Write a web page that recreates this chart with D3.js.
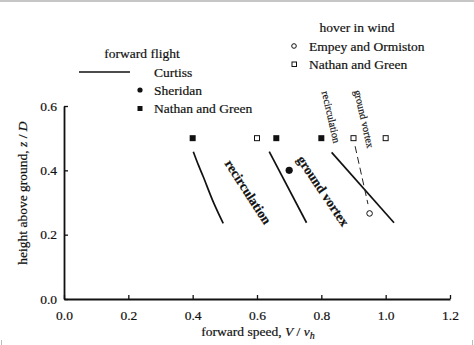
<!DOCTYPE html>
<html>
<head>
<meta charset="utf-8">
<script src="https://cdn.jsdelivr.net/npm/d3@7"></script>
<style>
  html, body { margin: 0; padding: 0; background: #fff; }
  svg { display: block; font-family: "Liberation Serif", "DejaVu Serif", serif; }
  svg text { stroke: #111; stroke-width: 0.2; }
</style>
</head>
<body>
<svg id="chart" width="474" height="345"></svg>
<script>
// Axis ticks
const xTicks = [0, 0.2, 0.4, 0.6, 0.8, 1.0, 1.2];
const yTicks = [0, 0.2, 0.4, 0.6];

// Curtiss boundaries in forward flight (V/vh, z/D)
const curtissRecirc = [[0.402, 0.458], [0.418, 0.416], [0.433, 0.380], [0.464, 0.302], [0.495, 0.235]];
const curtissGround = [[0.638, 0.458], [0.754, 0.237]];
const curtissUpper = [[0.832, 0.456], [1.026, 0.237]];

// Point measurements
const sheridanFwd = [[0.70, 0.40]];
const nathanFwd = [[0.40, 0.50], [0.66, 0.50], [0.80, 0.50]];
const nathanHover = [[0.60, 0.50], [0.90, 0.50], [1.00, 0.50]];
const empeyHover = [[0.95, 0.266]];
const hoverLink = [[0.905, 0.475], [0.945, 0.295]];

const svg = d3.select("#chart");
const x = d3.scaleLinear().domain([0, 1.2]).range([64, 450]);
const y = d3.scaleLinear().domain([0, 0.6]).range([299, 106]);

// thin frame band along the top edge and corner marks at the bottom
svg.append("rect").attr("x", 0).attr("y", 0).attr("width", 474).attr("height", 2).attr("fill", "#c6c6c6");
svg.append("line").attr("x1", 1.5).attr("x2", 1.5).attr("y1", 340).attr("y2", 345).attr("stroke", "#bbb");
svg.append("line").attr("x1", 472.5).attr("x2", 472.5).attr("y1", 340).attr("y2", 345).attr("stroke", "#bbb");

// axes with inward ticks
const xAxis = svg.append("g").attr("transform", "translate(0,299)")
  .call(d3.axisBottom(x).tickValues(xTicks).tickSizeInner(-4).tickSizeOuter(0).tickPadding(11).tickFormat(d3.format(".1f")));
const yAxis = svg.append("g").attr("transform", "translate(64,0)")
  .call(d3.axisLeft(y).tickValues(yTicks).tickSizeInner(-4).tickSizeOuter(0).tickPadding(7).tickFormat(d3.format(".1f")));
[xAxis, yAxis].forEach(a => {
  a.select(".domain").attr("stroke", "#111").attr("stroke-width", 1.8);
  a.selectAll(".tick line").attr("stroke", "#111").attr("stroke-width", 1.3);
  a.selectAll(".tick text").attr("font-size", 13.5).attr("fill", "#111")
    .attr("font-family", "Liberation Serif, serif");
});

const line = d3.line().x(d => x(d[0])).y(d => y(d[1]));
const curve = d3.line().x(d => x(d[0])).y(d => y(d[1])).curve(d3.curveCatmullRom);

svg.append("path").attr("d", curve(curtissRecirc)).attr("fill", "none").attr("stroke", "#111").attr("stroke-width", 1.7);
svg.append("path").attr("d", line(curtissGround)).attr("fill", "none").attr("stroke", "#111").attr("stroke-width", 1.7);
svg.append("path").attr("d", line(curtissUpper)).attr("fill", "none").attr("stroke", "#111").attr("stroke-width", 1.7);
svg.append("path").attr("d", line(hoverLink)).attr("fill", "none").attr("stroke", "#222")
  .attr("stroke-width", 1).attr("stroke-dasharray", "7,4");

const sq = 6;
svg.selectAll(".nf").data(nathanFwd).join("rect")
  .attr("x", d => x(d[0]) - sq / 2).attr("y", d => y(d[1]) - sq / 2)
  .attr("width", sq).attr("height", sq).attr("fill", "#111");
svg.selectAll(".nh").data(nathanHover).join("rect")
  .attr("x", d => x(d[0]) - sq / 2 + 0.5).attr("y", d => y(d[1]) - sq / 2 + 0.5)
  .attr("width", sq - 1).attr("height", sq - 1).attr("fill", "#fff").attr("stroke", "#111").attr("stroke-width", 1);
svg.selectAll(".sh").data(sheridanFwd).join("circle")
  .attr("cx", d => x(d[0])).attr("cy", d => y(d[1])).attr("r", 3.6).attr("fill", "#111");
svg.selectAll(".em").data(empeyHover).join("circle")
  .attr("cx", d => x(d[0])).attr("cy", d => y(d[1])).attr("r", 2.8)
  .attr("fill", "#fff").attr("stroke", "#111").attr("stroke-width", 1);

// region labels
function rotLabel(cx, cy, angle, text, size, weight) {
  svg.append("text").attr("transform", `translate(${cx},${cy}) rotate(${angle})`)
    .attr("text-anchor", "middle").attr("dominant-baseline", "central")
    .attr("font-size", size).attr("font-weight", weight).attr("fill", "#111").text(text);
}
rotLabel(248, 192, 57, "recirculation", 13.5, "bold");
rotLabel(323, 191, 56, "ground vortex", 13.5, "bold");
rotLabel(331, 117, 77, "recirculation", 10.5, "normal");
rotLabel(364, 119, 77, "ground vortex", 10.5, "normal");

// axis titles
const yt = svg.append("text").attr("transform", "translate(22,193) rotate(-90)")
  .attr("text-anchor", "middle").attr("dominant-baseline", "central").attr("font-size", 13.5).attr("fill", "#111");
yt.append("tspan").text("height above ground, ");
yt.append("tspan").attr("font-style", "italic").text("z");
yt.append("tspan").text(" / ");
yt.append("tspan").attr("font-style", "italic").text("D");

const xt = svg.append("text").attr("x", 258).attr("y", 336)
  .attr("text-anchor", "middle").attr("font-size", 13.5).attr("fill", "#111");
xt.append("tspan").text("forward speed, ");
xt.append("tspan").attr("font-style", "italic").text("V");
xt.append("tspan").text(" / ");
xt.append("tspan").attr("font-style", "italic").text("v");
xt.append("tspan").attr("font-style", "italic").attr("font-size", 10).attr("dy", 3).text("h");

// legends
function legText(tx, ty, text, anchor) {
  svg.append("text").attr("x", tx).attr("y", ty).attr("text-anchor", anchor || "start")
    .attr("dominant-baseline", "central").attr("font-size", 13.5).attr("fill", "#111").text(text);
}
legText(142, 53, "forward flight", "middle");
svg.append("line").attr("x1", 79).attr("x2", 130).attr("y1", 72).attr("y2", 72).attr("stroke", "#111").attr("stroke-width", 1.7);
legText(154, 72, "Curtiss");
svg.append("circle").attr("cx", 140).attr("cy", 90).attr("r", 2.6).attr("fill", "#111");
legText(154, 90, "Sheridan");
svg.append("rect").attr("x", 137.5).attr("y", 106).attr("width", 5).attr("height", 5).attr("fill", "#111");
legText(154, 108.5, "Nathan and Green");

legText(357, 27, "hover in wind", "middle");
svg.append("circle").attr("cx", 294).attr("cy", 46).attr("r", 2.3).attr("fill", "#fff").attr("stroke", "#111").attr("stroke-width", 1);
legText(309, 46, "Empey and Ormiston");
svg.append("rect").attr("x", 292).attr("y", 62).attr("width", 4.5).attr("height", 4.5).attr("fill", "#fff").attr("stroke", "#111").attr("stroke-width", 1);
legText(309, 64, "Nathan and Green");
</script>
</body>
</html>
